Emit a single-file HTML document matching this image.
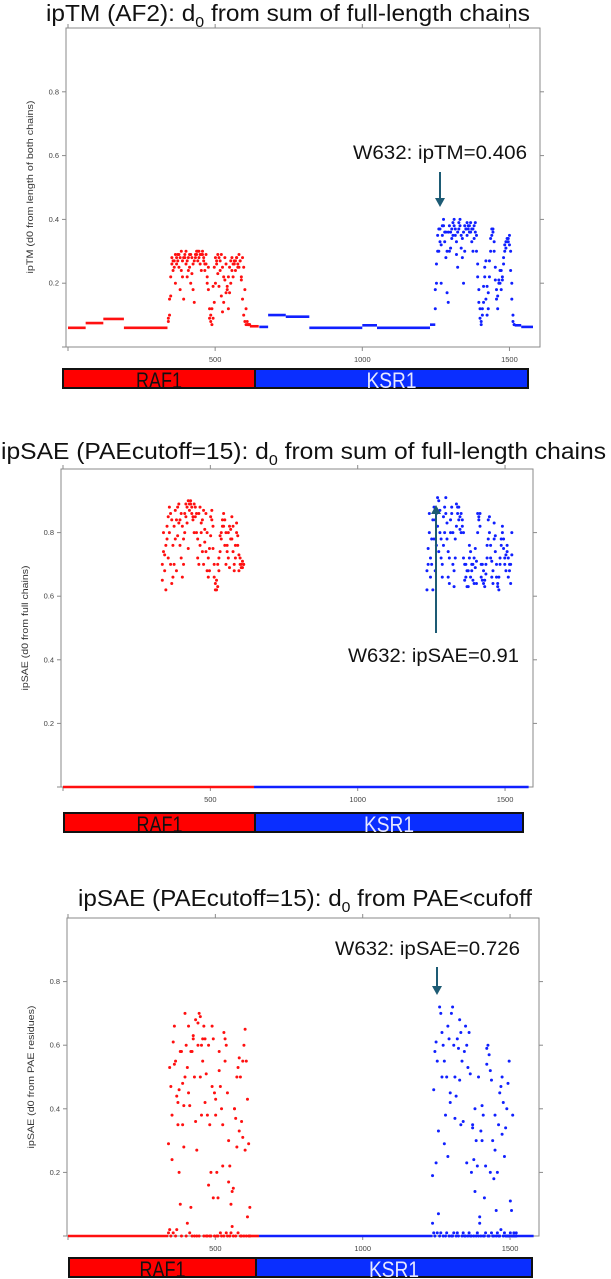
<!DOCTYPE html>
<html><head><meta charset="utf-8">
<style>
html,body{margin:0;padding:0;background:#fff;}
svg{display:block;font-family:"Liberation Sans",sans-serif;}
</style></head>
<body>
<svg id="s" width="611" height="1279" viewBox="0 0 611 1279" xmlns="http://www.w3.org/2000/svg"></svg>
<script>
// ---------- data ----------
const xTicks = [0, 500, 1000, 1500];
const xTickLabels = ["", "500", "1000", "1500"];
const yTicks = [0.2, 0.4, 0.6, 0.8];
const yTickLabels = ["0.2", "0.4", "0.6", "0.8"];
const chainNames = ["RAF1", "KSR1"];
const chainEnd = 648;

// Panel 1 baselines [start,end,value]
const p1BaseStart = [0, 60, 120, 190, 618, 650, 680, 740, 820, 1000, 1050, 1230, 1518, 1540];
const p1BaseEnd   = [60, 120, 190, 338, 648, 680, 740, 820, 1000, 1050, 1230, 1248, 1540, 1580];
const p1BaseVal   = [0.06, 0.075, 0.088, 0.06, 0.065, 0.063, 0.1, 0.095, 0.06, 0.068, 0.06, 0.07, 0.068, 0.063];
const p1RedRes = [];
for (let r = 341; r <= 617; r += 4) p1RedRes.push(r);
const p1RedVal = [0.08,0.10,0.16,0.26,0.24,0.27,0.20,0.28,0.29,0.25,0.18,0.30,0.22,0.15,0.28,0.30,0.27,0.24,0.29,0.20,0.28,0.26,0.14,0.29,0.30,0.27,0.30,0.29,0.24,0.30,0.28,0.26,0.29,0.22,0.18,0.12,0.10,0.07,0.09,0.14,0.20,0.26,0.29,0.28,0.24,0.16,0.11,0.22,0.28,0.26,0.18,0.12,0.17,0.20,0.24,0.22,0.26,0.27,0.28,0.25,0.29,0.27,0.22,0.28,0.25,0.18,0.12,0.08,0.07,0.07];
const p1RedVal2 = [0.09,0.15,0.22,0.28,0.27,0.25,0.29,0.26,0.27,0.29,0.28,0.24,0.27,0.28,0.29,0.26,0.22,0.28,0.25,0.29,0.23,0.18,0.27,0.28,0.29,0.30,0.28,0.26,0.29,0.29,0.27,0.24,0.26,0.2,0.25,0.09,0.08,0.12,0.19,0.25,0.28,0.27,0.23,0.19,0.27,0.29,0.25,0.14,0.21,0.17,0.19,0.22,0.25,0.27,0.28,0.26,0.27,0.24,0.28,0.26,0.25,0.27,0.21,0.15,0.1,0.08,0.07,0.07,0.07,0.07];
const p1BlueRes = [];
for (let r = 1248; r <= 1516; r += 4) p1BlueRes.push(r);
const p1BlueVal = [0.12,0.2,0.3,0.37,0.33,0.2,0.38,0.40,0.36,0.28,0.17,0.14,0.3,0.36,0.34,0.39,0.4,0.37,0.33,0.25,0.39,0.40,0.35,0.28,0.2,0.3,0.37,0.39,0.38,0.36,0.39,0.37,0.3,0.34,0.39,0.35,0.26,0.18,0.12,0.08,0.1,0.14,0.22,0.27,0.19,0.12,0.22,0.3,0.37,0.36,0.33,0.25,0.18,0.12,0.2,0.24,0.18,0.22,0.26,0.3,0.33,0.34,0.33,0.35,0.3,0.2,0.1,0.07];
const p1BlueVal2 = [0.18,0.26,0.35,0.3,0.37,0.32,0.35,0.38,0.33,0.36,0.3,0.36,0.38,0.31,0.37,0.35,0.38,0.35,0.29,0.36,0.37,0.38,0.31,0.34,0.36,0.38,0.37,0.35,0.37,0.38,0.36,0.33,0.37,0.38,0.36,0.3,0.22,0.14,0.09,0.07,0.12,0.19,0.25,0.15,0.1,0.17,0.27,0.34,0.35,0.37,0.3,0.21,0.15,0.16,0.21,0.2,0.24,0.21,0.28,0.32,0.31,0.33,0.34,0.32,0.24,0.15,0.08,0.07];

// Panel 2
const p2BaseStart = [0, 648];
const p2BaseEnd   = [648, 1580];
const p2BaseVal   = [0, 0];
const p2RedRes = [];
for (let r = 337; r <= 613; r += 4) p2RedRes.push(r);
const p2RedVal = [0.65,0.8,0.73,0.62,0.78,0.85,0.88,0.7,0.64,0.76,0.82,0.87,0.68,0.79,0.89,0.84,0.72,0.66,0.78,0.86,0.89,0.83,0.75,0.89,0.9,0.88,0.85,0.8,0.88,0.86,0.72,0.7,0.76,0.8,0.84,0.87,0.81,0.74,0.68,0.66,0.75,0.85,0.87,0.82,0.7,0.64,0.62,0.63,0.68,0.74,0.78,0.82,0.86,0.84,0.8,0.76,0.72,0.69,0.78,0.85,0.82,0.7,0.72,0.8,0.76,0.68,0.72,0.7,0.69,0.7];
const p2RedVal2 = [0.7,0.74,0.68,0.76,0.82,0.72,0.8,0.86,0.84,0.66,0.7,0.78,0.84,0.88,0.83,0.76,0.86,0.82,0.7,0.8,0.85,0.88,0.9,0.87,0.89,0.86,0.84,0.89,0.85,0.8,0.78,0.86,0.88,0.83,0.74,0.7,0.77,0.86,0.8,0.72,0.68,0.79,0.84,0.75,0.66,0.62,0.65,0.7,0.72,0.79,0.8,0.84,0.82,0.76,0.7,0.74,0.8,0.82,0.81,0.78,0.74,0.68,0.76,0.83,0.79,0.73,0.7,0.69,0.71,0.7];
const p2BlueRes = [];
for (let r = 1235; r <= 1523; r += 4) p2BlueRes.push(r);
const p2BlueVal = [0.62,0.7,0.86,0.66,0.78,0.62,0.88,0.84,0.76,0.91,0.9,0.8,0.72,0.66,0.85,0.88,0.91,0.83,0.74,0.64,0.8,0.86,0.7,0.63,0.78,0.89,0.88,0.84,0.81,0.86,0.82,0.72,0.65,0.7,0.63,0.68,0.76,0.74,0.7,0.65,0.64,0.69,0.71,0.86,0.85,0.82,0.7,0.65,0.64,0.63,0.67,0.72,0.78,0.8,0.76,0.71,0.68,0.83,0.79,0.66,0.63,0.62,0.7,0.76,0.8,0.78,0.72,0.68,0.74,0.66,0.7,0.64,0.8];
const p2BlueVal2 = [0.68,0.75,0.8,0.72,0.7,0.84,0.78,0.68,0.86,0.82,0.74,0.87,0.78,0.7,0.76,0.8,0.86,0.78,0.66,0.72,0.84,0.88,0.8,0.68,0.72,0.82,0.86,0.88,0.85,0.8,0.84,0.8,0.7,0.66,0.68,0.63,0.72,0.66,0.68,0.7,0.72,0.75,0.64,0.8,0.84,0.86,0.66,0.7,0.68,0.65,0.7,0.76,0.84,0.85,0.72,0.66,0.64,0.78,0.74,0.7,0.64,0.66,0.72,0.78,0.82,0.75,0.7,0.73,0.76,0.72,0.68,0.7,0.73];

// Panel 3
const p3BaseStart = [0, 615, 648, 1521];
const p3BaseEnd   = [340, 648, 1237, 1580];
const p3BaseVal   = [0, 0, 0, 0];
const p3RedRes = [];
for (let r = 341; r <= 617; r += 4) p3RedRes.push(r);
const p3RedVal = [0.29,0.53,0.47,0.38,0.61,0.66,0.55,0.44,0.35,0.2,0.1,0.58,0.48,0.41,0.7,0.6,0.53,0.66,0.41,0.09,0.58,0.63,0.5,0.36,0.27,0.67,0.7,0.69,0.6,0.55,0.66,0.62,0.51,0.38,0.16,0.35,0.2,0.66,0.62,0.45,0.38,0.2,0.12,0.52,0.47,0.4,0.35,0.64,0.62,0.6,0.45,0.3,0.22,0.1,0.03,0.15,0.4,0.37,0.28,0.53,0.56,0.5,0.36,0.31,0.6,0.65,0.55,0.43,0.29,0.09];
const p3RedVal2 = [0.01,0.02,0.0,0.24,0.01,0.54,0.0,0.02,0.42,0.46,0.58,0.0,0.35,0.28,0.5,0.0,0.04,0.45,0.01,0.58,0.0,0.62,0.0,0.68,0.0,0.6,0.0,0.5,0.38,0.62,0.0,0.42,0.0,0.0,0.6,0.0,0.0,0.47,0.12,0.0,0.43,0.0,0.0,0.58,0.01,0.0,0.22,0.0,0.55,0.01,0.0,0.17,0.0,0.01,0.14,0.0,0.4,0.0,0.5,0.01,0.33,0.0,0.0,0.55,0.0,0.27,0.0,0.06,0.0,0.0];
const p3BlueRes = [];
for (let r = 1237; r <= 1521; r += 4) p3BlueRes.push(r);
const p3BlueVal = [0.19,0.46,0.58,0.61,0.55,0.33,0.72,0.7,0.64,0.6,0.55,0.38,0.5,0.66,0.62,0.45,0.7,0.72,0.6,0.5,0.44,0.62,0.59,0.68,0.64,0.55,0.36,0.58,0.66,0.6,0.53,0.64,0.51,0.2,0.35,0.24,0.4,0.3,0.22,0.5,0.06,0.33,0.41,0.38,0.12,0.22,0.59,0.6,0.57,0.52,0.49,0.3,0.18,0.27,0.08,0.2,0.35,0.45,0.47,0.5,0.42,0.25,0.34,0.4,0.48,0.55,0.11,0.08,0.38,0.01,0.0,0.01];
const p3BlueVal2 = [0.04,0.01,0.0,0.23,0.01,0.07,0.0,0.01,0.5,0.0,0.29,0.0,0.01,0.25,0.0,0.42,0.0,0.0,0.01,0.37,0.0,0.01,0.0,0.49,0.35,0.0,0.01,0.0,0.0,0.23,0.0,0.01,0.0,0.0,0.34,0.0,0.14,0.0,0.01,0.0,0.04,0.0,0.3,0.0,0.0,0.01,0.54,0.0,0.0,0.2,0.01,0.0,0.0,0.38,0.0,0.01,0.0,0.0,0.02,0.32,0.0,0.01,0.0,0.0,0.0,0.0,0.01,0.0,0.0,0.0,0.0,0.0];

// ---------- drawing ----------
const NS = "http://www.w3.org/2000/svg";
const svg = document.getElementById('s');
function mk(tag, attrs, parent) {
  const e = document.createElementNS(NS, tag);
  for (const k in attrs) e.setAttribute(k, attrs[k]);
  (parent || svg).appendChild(e);
  return e;
}
const RED = "#ff1010", BLUE = "#1020ff", TEAL = "#1d5b74";

const panels = [
  {name:"iptm", box:[66,28,540,347], x0:68, xs:0.2943, title:"ipTM (AF2): d", titleRest:" from sum of full-length chains", tx:46, tw:484, ty:21, ylab:"ipTM (d0 from length of both chains)", ylx:30, ylc:187, ylw:173,
   bs:p1BaseStart, be:p1BaseEnd, bv:p1BaseVal, rr:p1RedRes, rv:[p1RedVal,p1RedVal2], br:p1BlueRes, bvv:[p1BlueVal,p1BlueVal2],
   bar:[63,369,528,388], split:255, ann:"W632: ipTM=0.406", ax:353, aw:174, ay:159, arr:[440,172,207]},
  {name:"ipsae-full", box:[61,469,533,787], x0:63, xs:0.2947, title:"ipSAE (PAEcutoff=15): d", titleRest:" from sum of full-length chains", tx:1, tw:605, ty:459, ylab:"ipSAE (d0 from full chains)", ylx:25, ylc:628, ylw:125,
   bs:p2BaseStart, be:p2BaseEnd, bv:p2BaseVal, rr:p2RedRes, rv:[p2RedVal,p2RedVal2], br:p2BlueRes, bvv:[p2BlueVal,p2BlueVal2],
   bar:[64,813,523,832], split:255, ann:"W632: ipSAE=0.91", ax:348, aw:171, ay:662, arr:[436,633,505]},
  {name:"ipsae-pae", box:[67,918,539,1236], x0:68, xs:0.2947, title:"ipSAE (PAEcutoff=15): d", titleRest:" from PAE<cufoff", tx:78, tw:454, ty:906, ylab:"ipSAE (d0 from PAE residues)", ylx:31, ylc:1077, ylw:143,
   bs:p3BaseStart, be:p3BaseEnd, bv:p3BaseVal, rr:p3RedRes, rv:[p3RedVal,p3RedVal2], br:p3BlueRes, bvv:[p3BlueVal,p3BlueVal2],
   bar:[69,1258,532,1277], split:256, ann:"W632: ipSAE=0.726", ax:335, aw:185, ay:955, arr:[437,967,995]}
];

panels.forEach((p, pi) => {
  const g = mk('g', {});
  
  
  const [L,T,R,B] = p.box;
  const X = v => p.x0 + v * p.xs;
  const Y = v => B - v * (B - T);

  // title
  const t = mk('text', {x:p.tx, y:p.ty, 'font-size':'23', fill:'#111', textLength:p.tw, lengthAdjust:'spacingAndGlyphs'}, g);
  
  
  t.appendChild(document.createTextNode(p.title));
  const sub = mk('tspan', {'font-size':'15', dy:'6'}, t); sub.textContent = '0';
  const rest = mk('tspan', {dy:'-6'}, t); rest.textContent = p.titleRest;

  // box
  const box = mk('rect', {x:L, y:T, width:R-L, height:B-T, fill:'none', stroke:'#8a8a8a', 'stroke-width':1}, g);
  
  

  // x ticks
  xTicks.forEach((v, i) => {
    const x = X(v);
    mk('line', {x1:x, x2:x, y1:B, y2:B+4, stroke:'#8a8a8a'}, g);
    mk('line', {x1:x, x2:x, y1:T, y2:T-4, stroke:'#8a8a8a'}, g);
    if (xTickLabels[i]) {
      const tl = mk('text', {x:x, y:B+15, 'text-anchor':'middle', 'font-size':'7.5', fill:'#444'}, g);
      
      
      tl.textContent = xTickLabels[i];
    }
  });
  // y ticks
  yTicks.forEach((v, i) => {
    const y = Y(v);
    mk('line', {x1:L-4, x2:L, y1:y, y2:y, stroke:'#8a8a8a'}, g);
    mk('line', {x1:R, x2:R+4, y1:y, y2:y, stroke:'#8a8a8a'}, g);
    const tl = mk('text', {x:L-7, y:y+2.5, 'text-anchor':'end', 'font-size':'7.5', fill:'#444'}, g);
    
    
    tl.textContent = yTickLabels[i];
  });
  mk('line', {x1:L-4, x2:L, y1:B, y2:B, stroke:'#8a8a8a'}, g);
  // y title
  const yc = p.ylc;
  const yt = mk('text', {x:p.ylx - p.ylw/2, y:yc, 'font-size':'9', fill:'#333', textLength:p.ylw, lengthAdjust:'spacingAndGlyphs', transform:`rotate(-90 ${p.ylx} ${yc})`}, g);
  yt.setAttribute('x', p.ylx - p.ylw/2);
  yt.setAttribute('y', yc + 3);
  
  
  yt.textContent = p.ylab;

  // baselines
  p.bs.forEach((s, i) => {
    const col = p.be[i] <= chainEnd ? RED : BLUE;
    const ln = mk('line', {x1:X(s), x2:X(p.be[i]), y1:Y(p.bv[i]), y2:Y(p.bv[i]), stroke:col, 'stroke-width':2.6}, g);
    
    
  });
  // scatter
  function dots(res, vals, col, nm) {
    vals.forEach(arr => arr.forEach((v, i) => {
      if (res[i] === undefined) return;
      const c = mk('circle', {cx:X(res[i]), cy:Y(v), r:1.5, fill:col}, g);
      
      
    }));
  }
  dots(p.rr, p.rv, RED, 'raf1-point');
  dots(p.br, p.bvv, BLUE, 'ksr1-point');

  // annotation
  const at = mk('text', {x:p.ax, y:p.ay, 'font-size':'19', fill:'#111', textLength:p.aw, lengthAdjust:'spacingAndGlyphs'}, g);
  
  
  at.textContent = p.ann;
  const [axx, a1, a2] = p.arr;
  const dir = a2 > a1 ? 1 : -1;
  mk('line', {x1:axx, x2:axx, y1:a1, y2:a2 - dir*7, stroke:TEAL, 'stroke-width':2}, g);
  const ah = mk('polygon', {points:`${axx-5},${a2-dir*9} ${axx+5},${a2-dir*9} ${axx},${a2}`, fill:TEAL}, g);
  
  

  // chain bar
  const [bx1, by1, bx2, by2] = p.bar;
  const r1 = mk('rect', {x:bx1, y:by1, width:p.split-bx1, height:by2-by1, fill:'#ff0000', stroke:'#111', 'stroke-width':2}, g);
  
  
  const r2 = mk('rect', {x:p.split, y:by1, width:bx2-p.split, height:by2-by1, fill:'#0a2eff', stroke:'#111', 'stroke-width':2}, g);
  
  
  const l1 = mk('text', {x:(bx1+p.split)/2 - 23, y:by2, 'font-size':'22', fill:'#111', textLength:46, lengthAdjust:'spacingAndGlyphs'}, g);
  
  
  l1.textContent = chainNames[0];
  const l2 = mk('text', {x:(p.split+bx2)/2 - 25, y:by2, 'font-size':'22', fill:'#e6e8ff', textLength:50, lengthAdjust:'spacingAndGlyphs'}, g);
  
  
  l2.textContent = chainNames[1];
});
</script>
</body></html>
